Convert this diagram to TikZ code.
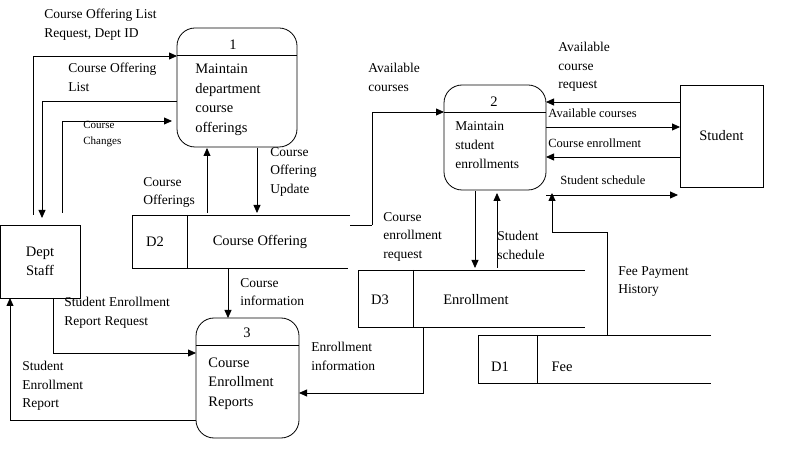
\documentclass[tikz,border=0pt]{standalone}
\usepackage{fontspec}
\setmainfont{LiberationSerif}[Extension=.ttf,UprightFont=*-Regular,BoldFont=*-Bold]
\usetikzlibrary{arrows.meta}
\begin{document}
\begin{tikzpicture}[x=1pt,y=-1pt,line width=0.8pt,
  arr/.style={-{Triangle[length=8pt,width=7pt]}},
  lbl/.style={inner sep=0pt,anchor=north west,align=left,font=\fontsize{13.5}{18.5}\selectfont},
  sml/.style={inner sep=0pt,anchor=north west,align=left,font=\fontsize{11}{16}\selectfont},
  txt/.style={inner sep=0pt,font=\fontsize{14.5}{19.5}\selectfont},
  proc/.style={draw,rounded corners=18pt,inner sep=0pt}]
\useasboundingbox (0,0) rectangle (801,462);
% processes
\node[proc,minimum width=120pt,minimum height=119pt] (p1) at (237,87.5) {};
\draw (177,55) -- (297,55);
\node[txt] at (233,45) {1};
\node[txt,anchor=north west,align=left] at (195,64) {Maintain\\department\\course\\offerings};
\node[proc,minimum width=102pt,minimum height=105pt] (p2) at (495,137.5) {};
\draw (444,112) -- (546,112);
\node[txt] at (494,102) {2};
\node[txt,anchor=north west,align=left,font=\fontsize{13.5}{19}\selectfont] at (455,121) {Maintain\\student\\enrollments};
\node[proc,minimum width=103pt,minimum height=120pt] (p3) at (247.5,378) {};
\draw (196,345) -- (299,345);
\node[txt] at (247,333) {3};
\node[txt,anchor=north west,align=left] at (208,357) {Course\\Enrollment\\Reports};
% externals
\node[draw,minimum width=80pt,minimum height=73pt,inner sep=0pt,txt,align=center] (ds) at (40,261.5) {Dept\\Staff};
\node[draw,minimum width=83pt,minimum height=102pt,inner sep=0pt,txt] (st) at (721.5,136) {Student};
% stores
\draw (350,215) -- (132,215) -- (132,268) -- (348,268);
\draw (187,215) -- (187,268);
\node[txt] (d2) at (155,242) {D2};
\node[txt] at (260,242) {Course Offering};
\draw (585,270) -- (358,270) -- (358,327) -- (585,327);
\draw (413,270) -- (413,327);
\node[txt] (d3) at (380,300) {D3};
\node[txt] at (476,300) {Enrollment};
\draw (711,335) -- (478,335) -- (478,383) -- (711,383);
\draw (537,335) -- (537,383);
\node[txt] (d1) at (500,367) {D1};
\node[txt] at (562,367) {Fee};
% flows with Dept Staff
\draw[arr] (33,215) -- (33,56) -- (177,56);
\node[lbl] at (44,9) {Course Offering List\\Request, Dept ID};
\draw[arr] (177,101) -- (42,101) -- (42,218);
\node[lbl] at (68,63) {Course Offering\\List};
\draw[arr] (62,213) -- (62,121) -- (172,121);
\node[sml] at (83,121) {Course\\Changes};
% D2 <-> p1
\draw[arr] (207,213) -- (207,148);
\node[lbl] at (143,177) {Course\\Offerings};
\draw[arr] (257,148) -- (257,213);
\node[lbl] at (270,147) {Course\\Offering\\Update};
% D2 -> p2
\draw (350,225) -- (372,225);
\draw[arr] (372,225) -- (372,112) -- (444,112);
\node[lbl] at (368,63) {Available\\courses};
% p2 <-> D3
\draw[arr] (475,191) -- (475,268);
\node[lbl] at (383,212) {Course\\enrollment\\request};
\draw[arr] (497,268) -- (497,193);
\node[lbl] at (497,231) {Student\\schedule};
% D1 -> p2
\draw[arr] (607,335) -- (607,232) -- (552,232) -- (552,193);
\node[lbl] at (618,266) {Fee Payment\\History};
% Student <-> p2
\draw[arr] (680,102) -- (546,102);
\node[lbl] at (558,42) {Available\\course\\request};
\draw[arr] (546,127) -- (680,127);
\node[lbl,font=\fontsize{12.5}{15}\selectfont] at (548,108) {Available courses};
\draw[arr] (680,157) -- (546,157);
\node[lbl,font=\fontsize{12.5}{15}\selectfont] at (548,138) {Course enrollment};
\draw[arr] (546,195) -- (678,195);
\node[lbl,font=\fontsize{12.5}{15}\selectfont] at (560,175) {Student schedule};
% p3 flows
\draw[arr] (228,268) -- (228,318);
\node[lbl] at (240,278) {Course\\information};
\draw[arr] (53,298) -- (53,353) -- (196,353);
\node[lbl] at (64,297) {Student Enrollment\\Report Request};
\draw[arr] (423,327) -- (423,393) -- (299,393);
\node[lbl] at (311,342) {Enrollment\\information};
\draw[arr] (196,420) -- (10,420) -- (10,298);
\node[lbl] at (22,361) {Student\\Enrollment\\Report};
\end{tikzpicture}
\end{document}
